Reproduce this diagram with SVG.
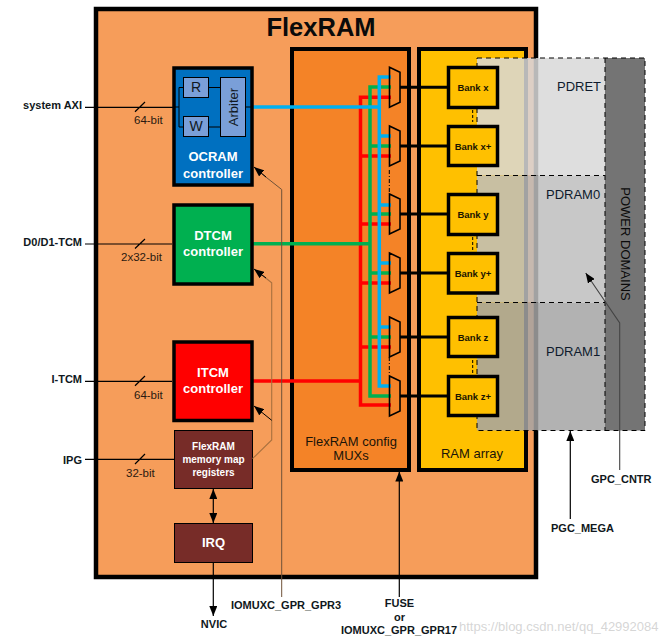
<svg xmlns="http://www.w3.org/2000/svg" width="671" height="643" viewBox="0 0 671 643">
<style>
text{font-family:"Liberation Sans",Arial,sans-serif;fill:#101820}
.lbl{font-size:11px;font-weight:bold}
.bit{font-size:11.5px;fill:#2a1a10}
.ctl{font-size:13px;font-weight:bold;fill:#fff;text-anchor:middle}
.bk{font-size:9.5px;font-weight:bold;text-anchor:middle;fill:#1a1400}
.pd{font-size:13px;fill:#0e1a2c}
.big{font-size:13px;text-anchor:middle;fill:#1a1408}
.box{stroke:#000;stroke-width:3.5}
.reg{fill:#772c28;stroke:#000;stroke-width:1}
.sub{fill:#7a9fd8;stroke:#000;stroke-width:1}
.bank{fill:#ffc000;stroke:#000;stroke-width:3.5}
.mux{fill:#f48327;stroke:#000;stroke-width:1.6}
.thin{fill:none;stroke:#000;stroke-width:1}
.ar{fill:none;stroke:#000;stroke-width:1.2}
.blue{fill:none;stroke:#00b0f0;stroke-width:3.5}
.green{fill:none;stroke:#00b050;stroke-width:3.5}
.red{fill:none;stroke:#f00;stroke-width:3.5}
.dash{stroke:#000;stroke-width:1;stroke-dasharray:5 4;fill:none}
.link{stroke:#000;stroke-width:3;fill:none}
.dd{stroke:#000;stroke-width:1;stroke-dasharray:3 2;fill:none}
</style>
<defs>
<marker id="h" viewBox="0 0 10 8" refX="10" refY="4" markerWidth="10" markerHeight="8" markerUnits="userSpaceOnUse" orient="auto-start-reverse"><path d="M0 0L10 4L0 8Z" fill="#000"/></marker>
</defs>
<g id="flexram">
<rect x="96" y="9" width="440" height="568" fill="#f69d5a" stroke="#000" stroke-width="4.5"/>
<text x="321" y="35.500" font-size="25.500" font-weight="bold" text-anchor="middle" style="fill:#0a0a0a">FlexRAM</text>
</g>
<g id="mux-block">
<rect x="292" y="49" width="117" height="421" fill="#f48327" stroke="#000" stroke-width="4"/>
<text class="big" x="351" y="446">FlexRAM config</text>
<text class="big" x="351" y="460">MUXs</text>
</g>
<g id="ram-array">
<rect x="419" y="49" width="107" height="421" fill="#ffc000" stroke="#000" stroke-width="4"/>
<text class="big" x="472" y="458">RAM array</text>
</g>
<g id="connectors">
<g id="data-links">
<path class="link" d="M400 87.300H447M400 146H447M400 214H447M400 273H447M400 337H447M400 396H447"/>
<path class="dd" d="M472.700 110V122M472.700 237V250M472.700 360V373"/>
<path stroke="#000" stroke-width="1" stroke-dasharray="4 2 1 2" fill="none" d="M389.300 170V193M389.300 357V375"/>
<path class="red" d="M391 405H360.500V97.300H391M360.500 156H391M360.500 224H391M360.500 283H391M360.500 347H391M252 381H360.500"/>
<path class="green" d="M391 396H370V87H391M370 146H391M370 214H391M370 273H391M370 337H391M252 243.700H370"/>
<path class="blue" d="M391 386H379.300V77H391M379.300 136H391M379.300 205H391M379.300 263H391M379.300 327H391M252 107H379.300"/>
</g>
</g>
<g id="muxes">
<path id="mux1" class="mux" d="M389.500 67.300L400 72.300V102.300L389.500 107.300Z" fill-opacity="0"/>
<path id="mux2" class="mux" d="M389.500 126L400 131V161L389.500 166Z" fill-opacity="0"/>
<path id="mux3" class="mux" d="M389.500 194L400 199V229L389.500 234Z" fill-opacity="0"/>
<path id="mux4" class="mux" d="M389.500 253L400 258V288L389.500 293Z" fill-opacity="0"/>
<path id="mux5" class="mux" d="M389.500 317L400 322V352L389.500 357Z" fill-opacity="0"/>
<path id="mux6" class="mux" d="M389.500 376L400 381V411L389.500 416Z" fill-opacity="0"/>
</g>
<g id="ocram">
<rect class="box" x="174" y="68" width="78" height="117" fill="#0070c0"/>
<path class="thin" d="M174 107H179M183.500 87.500H179V127H183.500M209 87.500H220M209 127H220M246 107H252"/>
<rect class="sub" x="183.500" y="77.500" width="25" height="20"/>
<rect class="sub" x="183.500" y="116.500" width="25" height="20"/>
<rect class="sub" x="220.500" y="77.500" width="25" height="59"/>
<text x="196" y="91.500" font-size="14" text-anchor="middle">R</text>
<text x="196" y="131" font-size="14" text-anchor="middle">W</text>
<text transform="translate(237.500 107) rotate(-90)" font-size="13" text-anchor="middle">Arbiter</text>
<text class="ctl" x="213" y="161">OCRAM</text>
<text class="ctl" x="213" y="177.500">controller</text>
</g>
<g id="dtcm">
<rect class="box" x="174" y="205" width="78" height="79" fill="#00b050"/>
<text class="ctl" x="213" y="240">DTCM</text>
<text class="ctl" x="213" y="256">controller</text>
</g>
<g id="itcm">
<rect class="box" x="174" y="342" width="78" height="78.500" fill="#f00"/>
<text class="ctl" x="213" y="377">ITCM</text>
<text class="ctl" x="213" y="393">controller</text>
</g>
<g id="registers">
<rect class="reg" x="174.500" y="430.500" width="78" height="58"/>
<text x="213.500" y="450" font-size="10" font-weight="bold" text-anchor="middle" style="fill:#fff">FlexRAM</text>
<text x="213.500" y="463" font-size="10" font-weight="bold" text-anchor="middle" style="fill:#fff">memory map</text>
<text x="213.500" y="476" font-size="10" font-weight="bold" text-anchor="middle" style="fill:#fff">registers</text>
</g>
<g id="irq">
<rect class="reg" x="174.500" y="523.500" width="78" height="39"/>
<text x="213.500" y="547" font-size="13" font-weight="bold" text-anchor="middle" style="fill:#fff">IRQ</text>
</g>
<g id="pdret">
<rect x="477" y="58" width="128" height="117.500" fill="#d8d8d8" fill-opacity=".85"/>
<text class="pd" x="557" y="90.500">PDRET</text>
</g>
<g id="pdram0">
<rect x="477" y="175.500" width="128" height="127" fill="#bebebe" fill-opacity=".85"/>
<text class="pd" x="546" y="199">PDRAM0</text>
</g>
<g id="pdram1">
<rect x="477" y="302.500" width="128" height="128" fill="#a5a5a5" fill-opacity=".85"/>
<text class="pd" x="546" y="356">PDRAM1</text>
</g>
<g id="power-domains">
<rect x="605" y="58" width="40" height="372.500" fill="#5c5c5c" fill-opacity=".85"/>
<text transform="translate(620.500 244) rotate(90)" font-size="13" text-anchor="middle" style="fill:#0a0a0a">POWER DOMAINS</text>
</g>
<g id="domain-borders">
<path class="dash" d="M477 58H645V430.500H477V58M477 175.500H605M477 302.500H605M605 58V430.500"/>
</g>
<g id="bank-x"><rect class="bank" x="448.500" y="67.500" width="49" height="40"/><text class="bk" x="473" y="90.500">Bank x</text></g>
<g id="bank-x-plus"><rect class="bank" x="448.500" y="126.500" width="49" height="39"/><text class="bk" x="473" y="149.500">Bank x+</text></g>
<g id="bank-y"><rect class="bank" x="448.500" y="194.500" width="49" height="40"/><text class="bk" x="473" y="218">Bank y</text></g>
<g id="bank-y-plus"><rect class="bank" x="448.500" y="253.500" width="49" height="39.500"/><text class="bk" x="473" y="276.500">Bank y+</text></g>
<g id="bank-z"><rect class="bank" x="448.500" y="317.500" width="49" height="39"/><text class="bk" x="473" y="340.500">Bank z</text></g>
<g id="bank-z-plus"><rect class="bank" x="448.500" y="376.500" width="49" height="39"/><text class="bk" x="473" y="399.500">Bank z+</text></g>
<g id="signals">
<path class="ar" d="M85 107.300H174M135 111.700L145 102"/>
<path class="ar" d="M85 244H172M135 248.500L145 239"/>
<path class="ar" d="M85 381.300H172M135 385.700L145 376"/>
<path class="ar" d="M85 459.300H174.500M135 464L145 454"/>
<path fill="none" stroke="#6f5238" stroke-width="1" d="M281.700 597V189.500L262 174" />
<path fill="none" stroke="#000" stroke-width="1" marker-end="url(#h)" d="M266 177L254 167"/>
<path fill="none" stroke="#a9713f" stroke-width="1.100" d="M252.500 458.700L271.700 440V282.700L262 275"/>
<path fill="none" stroke="#000" stroke-width="1" marker-end="url(#h)" d="M266 278L254 269"/>
<path fill="none" stroke="#000" stroke-width="1" marker-end="url(#h)" d="M271.700 420.300L254 406"/>
<path class="ar" marker-start="url(#h)" marker-end="url(#h)" d="M213.300 489V523"/>
<path class="ar" marker-end="url(#h)" d="M213.300 563V616"/>
<path class="ar" marker-end="url(#h)" d="M399.300 597V471.500"/>
<path class="ar" marker-end="url(#h)" d="M570.300 519V431"/>
<path fill="none" stroke="#444" stroke-width="1.100" marker-end="url(#h)" d="M619.700 470V323L585.700 273"/>
</g>
<g id="labels">
<text class="lbl" x="82" y="109" text-anchor="end">system AXI</text>
<text class="lbl" x="82" y="246" text-anchor="end">D0/D1-TCM</text>
<text class="lbl" x="82" y="383" text-anchor="end">I-TCM</text>
<text class="lbl" x="82" y="463.500" text-anchor="end">IPG</text>
<text class="bit" x="134" y="124">64-bit</text>
<text class="bit" x="121" y="261">2x32-bit</text>
<text class="bit" x="134" y="399">64-bit</text>
<text class="bit" x="126" y="477">32-bit</text>
<text class="lbl" x="214" y="628" text-anchor="middle">NVIC</text>
<text class="lbl" x="231" y="609">IOMUXC_GPR_GPR3</text>
<text class="lbl" x="399.500" y="607" text-anchor="middle">FUSE</text>
<text class="lbl" x="399.500" y="621" text-anchor="middle">or</text>
<text class="lbl" x="399" y="634" text-anchor="middle">IOMUXC_GPR_GPR17</text>
<text class="lbl" x="551" y="532">PGC_MEGA</text>
<text class="lbl" x="591" y="483">GPC_CNTR</text>
<text x="459" y="631" font-size="13" style="fill:#c4c4c4" fill-opacity=".7">https://blog.csdn.net/qq_42992084</text>
</g>
</svg>
